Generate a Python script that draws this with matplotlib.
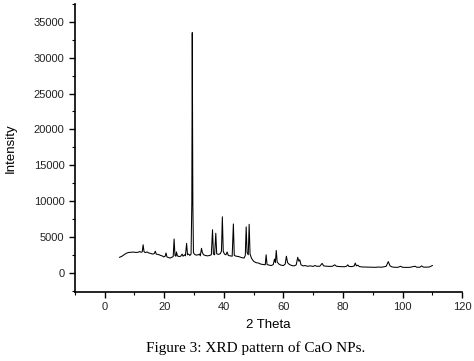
import matplotlib
matplotlib.use('Agg')
import matplotlib.pyplot as plt
from matplotlib.ticker import MultipleLocator

# XRD pattern points (2 theta, intensity)
two_theta = [5.0, 5.8, 6.5, 7.2, 8.0, 8.8, 9.6, 10.4, 11.2, 11.8, 12.2, 12.6, 12.9, 13.2, 13.6,
             14.2, 14.8, 15.4, 16.0, 16.6, 17.0, 17.3, 17.8, 18.3, 18.8, 19.3, 19.8, 20.3, 20.6,
             20.9, 21.5, 22.0, 22.5, 23.0, 23.3, 23.6, 23.9, 24.1, 24.4, 25.0, 25.5, 26.0, 26.3,
             26.8, 27.1, 27.5, 27.8, 28.2, 28.6, 29.0, 29.25, 29.4, 29.5, 29.6, 29.8, 30.2, 30.8,
             31.4, 31.8, 32.1, 32.5, 32.8, 33.2, 33.8, 34.5, 35.2, 35.8, 36.2, 36.5, 36.9, 37.3,
             37.6, 38.2, 38.8, 39.2, 39.5, 39.8, 40.2, 40.7, 41.1, 41.5, 42.2, 42.8, 43.2, 43.5,
             44.2, 45.0, 46.0, 46.8, 47.2, 47.5, 47.8, 48.2, 48.5, 48.8, 49.3, 50.0, 50.8, 51.6,
             52.4, 53.2, 53.9, 54.2, 54.5, 55.2, 56.0, 56.6, 57.0, 57.3, 57.6, 57.9, 58.5, 59.2,
             60.0, 60.6, 61.0, 61.4, 62.0, 62.8, 63.6, 64.3, 64.8, 65.2, 65.5, 65.9, 66.6, 67.3,
             68.0, 69.0, 70.0, 70.6, 71.2, 72.2, 73.0, 73.5, 74.5, 75.5, 76.5, 77.2, 77.8, 79.0,
             80.5, 81.2, 81.6, 82.0, 83.0, 83.8, 84.1, 84.5, 85.0, 85.5, 86.5, 88.0, 89.5, 91.0,
             92.0, 92.5, 93.5, 94.5, 95.2, 95.8, 96.5, 97.5, 98.5, 99.4, 99.9, 101.0, 102.5, 103.5,
             104.2, 104.8, 105.8, 106.4, 107.0, 108.0, 109.0, 110.0]
intensity = [2150, 2300, 2500, 2700, 2820, 2850, 2880, 2830, 2850, 2950, 2850, 2900, 3900, 2950, 2800,
             2900, 2750, 2700, 2600, 2650, 3000, 2600, 2550, 2500, 2400, 2350, 2200, 2300, 2750,
             2200, 2100, 2050, 2150, 2250, 4700, 2400, 2300, 2900, 2350, 2250, 2300, 2600, 2300,
             2500, 2350, 4100, 2500, 2600, 2400, 2600, 9800, 33500, 22200, 9500, 2800, 2550, 2450,
             2500, 2600, 2350, 3400, 2800, 2500, 2400, 2350, 2400, 2500, 6000, 2600, 2500, 5500,
             2650, 2550, 2650, 3000, 7800, 3000, 2600, 2500, 2900, 2400, 2350, 2300, 6800, 2400,
             2300, 2250, 2100, 2050, 2400, 6400, 2800, 2500, 6750, 2600, 2000, 1600, 1400, 1350,
             1200, 1150, 1100, 2500, 1150, 1050, 1000, 1150, 1900, 1400, 3100, 1500, 1200, 1050,
             1000, 1200, 2300, 1400, 1150, 1000, 950, 1100, 2150, 1600, 1800, 1100, 950, 1000,
             900, 950, 880, 1000, 900, 900, 1300, 950, 900, 880, 900, 1100, 900, 850,
             830, 900, 1100, 880, 850, 950, 1350, 950, 1050, 850, 800, 780, 760, 750,
             800, 760, 800, 900, 1550, 950, 800, 750, 760, 900, 760, 740, 750, 850,
             900, 760, 760, 950, 780, 770, 800, 1000]

fig = plt.figure(figsize=(4.74, 3.61), dpi=100)
ax = fig.add_axes([0.158, 0.191, 0.817, 0.798])
ax.plot(two_theta, intensity, color='black', lw=0.75)

ax.set_xlim(-10, 120)
ax.set_ylim(-2700, 37500)
ax.xaxis.set_major_locator(MultipleLocator(20))
ax.xaxis.set_minor_locator(MultipleLocator(10))
ax.yaxis.set_major_locator(MultipleLocator(5000))
ax.yaxis.set_minor_locator(MultipleLocator(2500))
ax.spines['top'].set_visible(False)
ax.spines['right'].set_visible(False)
for s in ['left', 'bottom']:
    ax.spines[s].set_linewidth(1.2)
ax.tick_params(which='major', direction='out', length=4, width=1.0, labelsize=8)
ax.tick_params(which='minor', direction='out', length=2.5, width=0.8)
for lab in ax.get_xticklabels() + ax.get_yticklabels():
    lab.set_family('Liberation Sans')
    lab.set_color('#222222')

ax.set_xlabel('2 Theta', family='Liberation Sans', fontsize=9.5, labelpad=5)
ax.set_ylabel('Intensity', family='Liberation Sans', fontsize=9.5, labelpad=12)
fig.text(0.54, 0.035, 'Figure 3: XRD pattern of CaO NPs.', ha='center', va='center',
         family='Liberation Serif', fontsize=11)

fig.savefig('out.png', dpi=100)
